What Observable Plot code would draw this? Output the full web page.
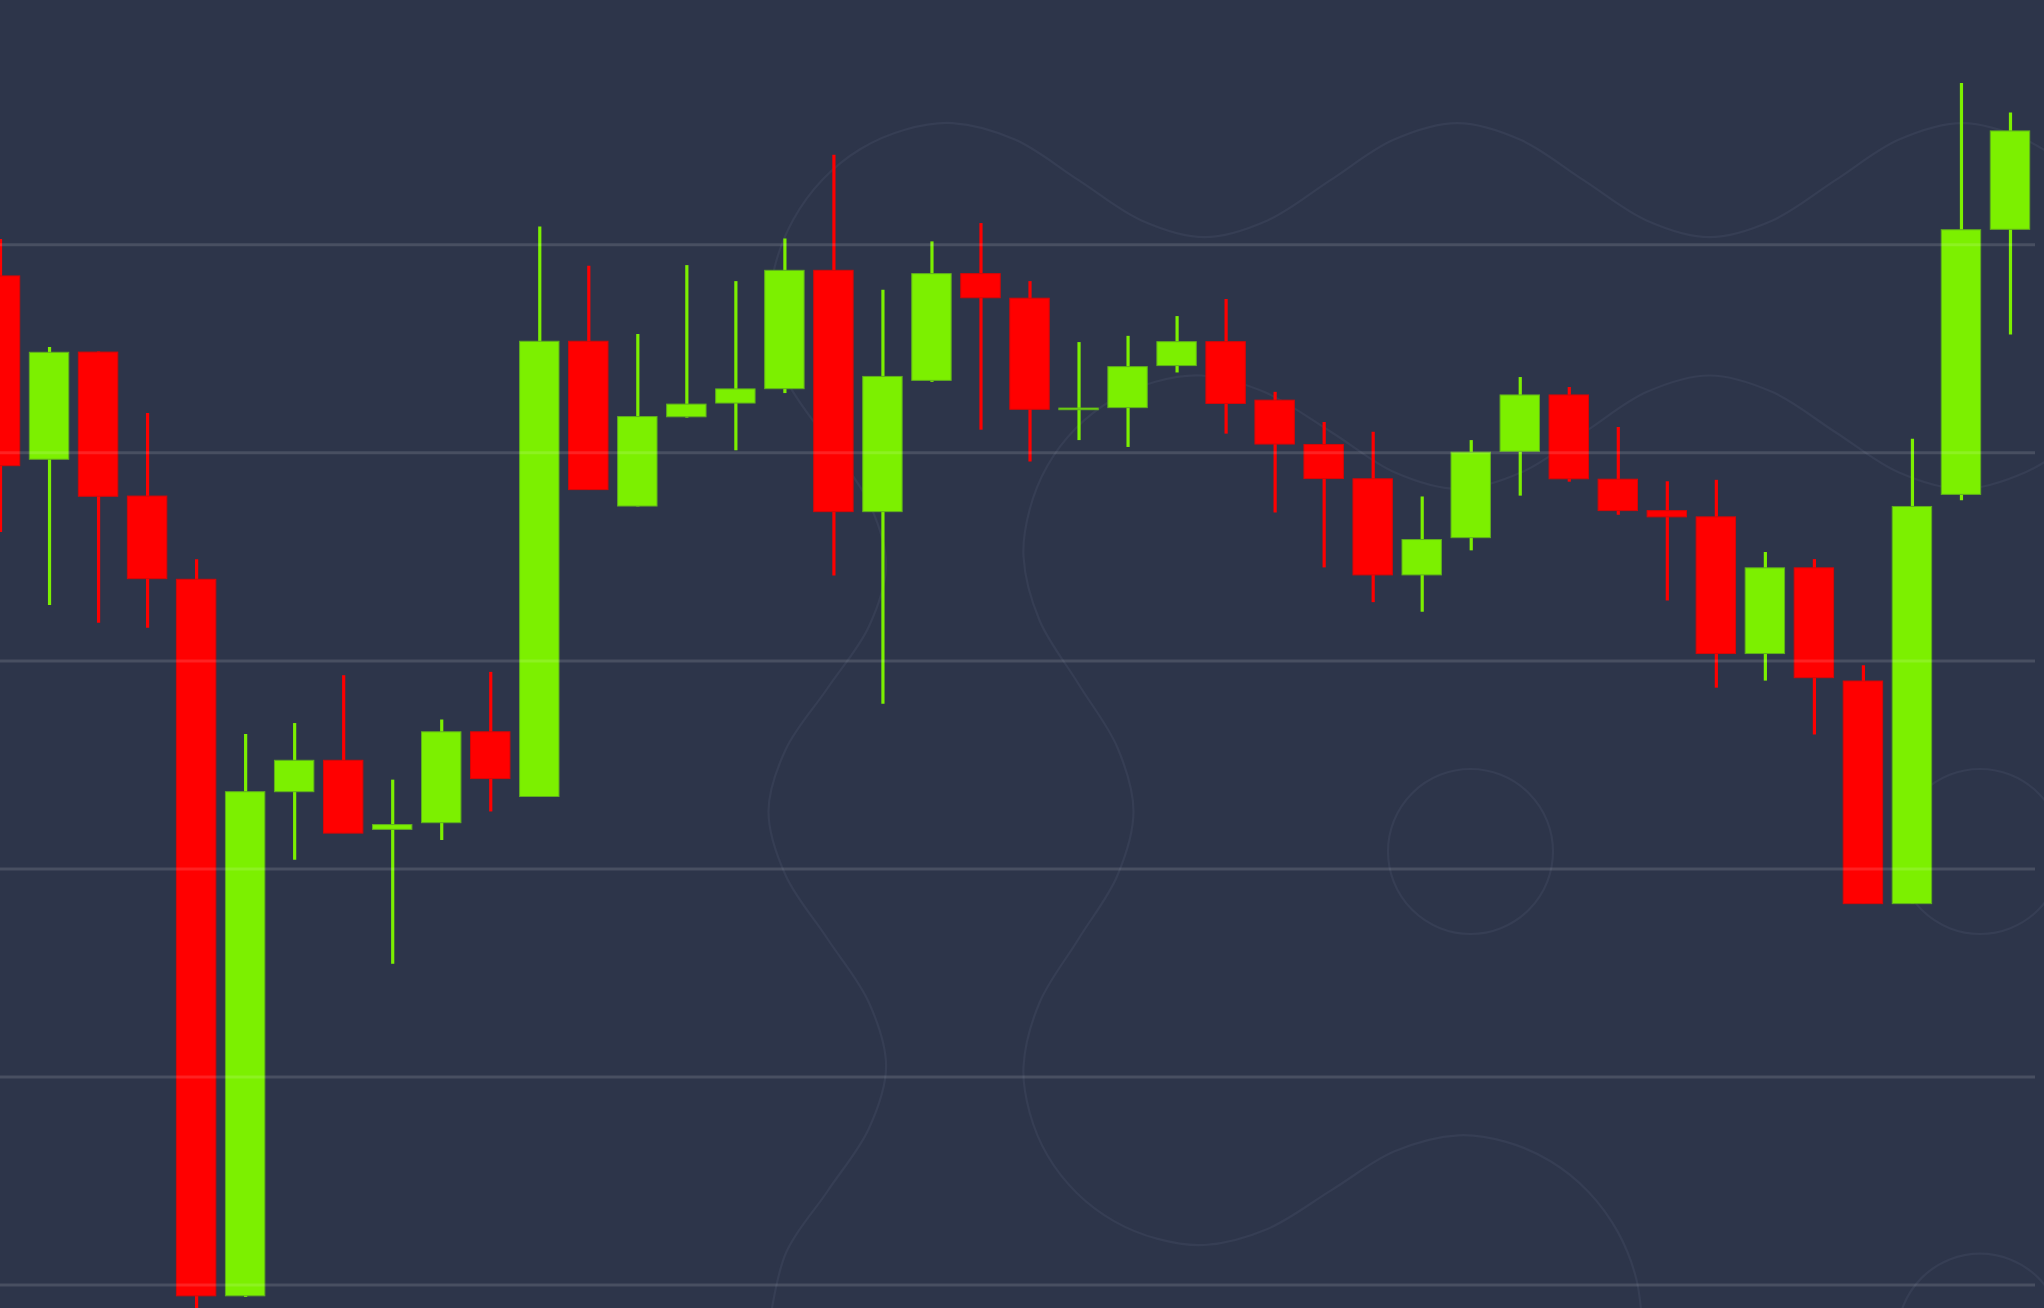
<!DOCTYPE html>
<html>
<head>
<meta charset="utf-8">
<script src="https://cdn.jsdelivr.net/npm/d3@7"></script>
<script src="https://cdn.jsdelivr.net/npm/@observablehq/plot@0.6"></script>
<style>
  html, body { margin: 0; padding: 0; background: #2d354a; overflow: hidden; }
  #chart svg { display: block; }
</style>
</head>
<body>
<div id="chart"></div>
<script>
// Candle index (time order, left to right)
const candleIndex = [0,1,2,3,4,5,6,7,8,9,10,11,12,13,14,15,16,17,18,19,20,21,22,23,24,25,26,27,28,29,30,31,32,33,34,35,36,37,38,39,40,41];

// OHLC values (price units, gridlines every 100)
const opens  = [9584.8, 9496.7, 9548.2, 9479.0, 9439.0, 9094.6, 9336.9, 9352.0, 9318.8, 9322.0,
                9365.7, 9334.6, 9553.4, 9474.2, 9517.1, 9523.7, 9530.6, 9587.5, 9471.5, 9534.6,
                9585.9, 9574.1, 9520.5, 9521.5, 9541.7, 9553.2, 9525.1, 9503.8, 9487.3, 9441.1,
                9459.0, 9500.5, 9527.6, 9487.1, 9472.0, 9469.0, 9403.3, 9444.5, 9390.1, 9283.1,
                9479.8, 9607.2];
const closes = [9493.6, 9548.1, 9478.9, 9439.3, 9094.6, 9336.9, 9352.0, 9317.0, 9321.1, 9365.7,
                9343.2, 9553.4, 9482.1, 9517.2, 9523.2, 9530.5, 9587.5, 9471.5, 9536.5, 9585.9,
                9574.3, 9520.7, 9521.3, 9541.2, 9553.2, 9523.5, 9504.0, 9487.4, 9441.1, 9458.1,
                9500.1, 9527.6, 9487.3, 9472.0, 9469.0, 9403.3, 9444.5, 9391.7, 9283.1, 9474.0,
                9607.0, 9654.5];
const highs  = [9602.5, 9550.6, 9548.5, 9518.9, 9448.6, 9364.6, 9369.9, 9392.9, 9342.7, 9371.6,
                9394.5, 9608.5, 9589.7, 9556.9, 9590.0, 9582.3, 9602.8, 9643.1, 9578.1, 9601.4,
                9610.2, 9582.3, 9553.0, 9556.0, 9565.5, 9573.7, 9529.1, 9514.6, 9509.9, 9478.8,
                9505.9, 9536.2, 9531.4, 9512.2, 9486.1, 9486.8, 9452.1, 9448.7, 9397.7, 9506.5,
                9677.5, 9663.4];
const lows   = [9461.7, 9426.6, 9418.1, 9415.7, 9080.0, 9094.0, 9304.2, 9317.0, 9254.2, 9313.7,
                9327.4, 9334.4, 9482.0, 9474.0, 9516.7, 9501.0, 9528.5, 9440.8, 9379.2, 9533.9,
                9510.9, 9495.6, 9505.9, 9502.6, 9538.4, 9509.0, 9471.1, 9444.7, 9428.0, 9423.4,
                9452.9, 9479.2, 9485.9, 9470.0, 9428.8, 9386.9, 9390.3, 9364.4, 9283.1, 9282.9,
                9477.0, 9556.6];

// Horizontal grid levels
const gridTicks = [9100, 9200, 9300, 9400, 9500, 9600];

// Faint decorative background outline (picture pixels)
const decorWaveA = [
  [768,1330],[785.2,1253],[826.8,1191],[868.4,1128],[885.6,1066],[868.4,1002],[826.8,938],[785.2,875],
  [768,811],[785.2,749],[826.8,688],[868.4,626],[885.6,564],[868.4,502],[826.8,440],[785.2,378],
  [768,316],[774.3,265.9],[792.7,219.3],[821.9,179.3],[860,148.5],[904.4,129.2],[952,122.6],
  [1015,139.3],[1078,179.6],[1141,219.9],[1204,236.6],[1267,219.9],[1330,179.6],[1393,139.3],
  [1457,122.6],[1520,139.3],[1583,179.6],[1646,219.9],[1709,236.6],[1772,219.9],[1835,179.6],
  [1898,139.3],[1962,122.6],[2025,139.3],[2088,179.6]
];
const decorWaveB = [
  [2088,431.7],[2025,471.8],[1962,488.4],[1898,471.8],[1835,431.7],[1772,391.6],[1709,375],
  [1646,391.6],[1584,431.7],[1521,471.8],[1458,488.4],[1394,471.8],[1331,431.7],[1264,391.6],
  [1201,375],[1154.9,381.2],[1112,399.2],[1075.1,428],[1046.8,465.5],[1029.1,509.2],[1023,556],
  [1039.1,620],[1078,683.5],[1116.9,747],[1133,811],[1116.9,875],[1078,938.5],[1039.1,1002],
  [1023,1066],[1029.2,1112.2],[1047.2,1155.3],[1076,1192.2],[1113.5,1220.6],[1157.2,1238.4],
  [1204,1244.5],[1267,1228.4],[1331,1189.6],[1394,1150.8],[1458,1134.8],[1505.6,1141.4],
  [1550,1160.7],[1588.1,1191.4],[1617.3,1231.4],[1635.7,1278],[1642,1328]
];
const decorRings = [[1470, 851], [1979.5, 851], [1979.5, 1335.7]];

const upColor = "#7cf000";
const downColor = "#ff0000";
const upEdge = "#5fae1e";
const downEdge = "#d40808";
const decorColor = "#363e54";

const xDomain = [-0.5, 41.5], xRange = [-24.5, 2034.5];
const yDomain = [9100, 9600], yRange = [1284.6, 244.3];
const xPix = d3.scaleLinear().domain(xDomain).range(xRange);
const yPix = d3.scaleLinear().domain(yDomain).range(yRange);
const toData = ([px, py]) => ({ u: xPix.invert(px), p: yPix.invert(py) });

const candles = candleIndex.map((i) => ({
  i,
  open: opens[i],
  close: closes[i],
  high: highs[i],
  low: lows[i],
  up: closes[i] >= opens[i]
}));

const halfBody = 0.402;

const chart = Plot.plot({
  width: 2044,
  height: 1308,
  marginTop: 0,
  marginBottom: 0,
  marginLeft: 0,
  marginRight: 9,
  style: { background: "#2d354a" },
  x: { domain: xDomain, range: xRange, axis: null },
  y: { domain: yDomain, range: yRange, axis: null },
  color: { type: "identity" },
  marks: [
    Plot.line(decorWaveA.map(toData), { x: "u", y: "p", curve: "catmull-rom", stroke: decorColor, strokeWidth: 2.2 }),
    Plot.line(decorWaveB.map(toData), { x: "u", y: "p", curve: "catmull-rom", stroke: decorColor, strokeWidth: 2.2 }),
    Plot.dot(decorRings.map(toData), { x: "u", y: "p", r: 82.5, stroke: decorColor, strokeWidth: 2.2, fill: "none" }),
    Plot.ruleX(candles, {
      x: "i",
      y1: "low",
      y2: "high",
      stroke: (d) => (d.up ? upColor : downColor),
      strokeWidth: 3.2
    }),
    Plot.rect(candles, {
      x1: (d) => d.i - halfBody,
      x2: (d) => d.i + halfBody,
      y1: "open",
      y2: "close",
      fill: (d) => (d.up ? upColor : downColor),
      stroke: (d) => (d.up ? upEdge : downEdge),
      strokeWidth: 1
    }),
    Plot.ruleY(gridTicks, {
      stroke: "#ffffff",
      strokeOpacity: 0.13,
      strokeWidth: 3
    })
  ]
});

document.getElementById("chart").appendChild(chart);
</script>
</body>
</html>
